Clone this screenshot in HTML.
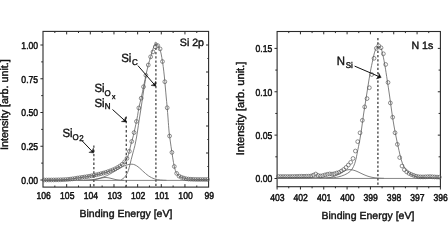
<!DOCTYPE html>
<html><head><meta charset="utf-8"><title>XPS spectra</title>
<style>
html,body{margin:0;padding:0;background:#fff;}
body{width:448px;height:252px;overflow:hidden;}
svg{display:block;}
text{font-family:"Liberation Sans", Arial, Helvetica, sans-serif;fill:#111;text-rendering:geometricPrecision;}
</style></head>
<body>
<svg width="448" height="252" viewBox="0 0 448 252">
<rect width="448" height="252" fill="#fff"/>
<rect x="43.00" y="31.40" width="165.60" height="155.70" fill="none" stroke="#2a2a2a" stroke-width="1.1"/>
<line x1="54.83" y1="187.10" x2="54.83" y2="185.50" stroke="#2a2a2a" stroke-width="1.0" />
<line x1="54.83" y1="31.40" x2="54.83" y2="33.00" stroke="#2a2a2a" stroke-width="1.0" />
<line x1="66.66" y1="187.10" x2="66.66" y2="184.10" stroke="#2a2a2a" stroke-width="1.0" />
<line x1="66.66" y1="31.40" x2="66.66" y2="34.40" stroke="#2a2a2a" stroke-width="1.0" />
<line x1="78.49" y1="187.10" x2="78.49" y2="185.50" stroke="#2a2a2a" stroke-width="1.0" />
<line x1="78.49" y1="31.40" x2="78.49" y2="33.00" stroke="#2a2a2a" stroke-width="1.0" />
<line x1="90.31" y1="187.10" x2="90.31" y2="184.10" stroke="#2a2a2a" stroke-width="1.0" />
<line x1="90.31" y1="31.40" x2="90.31" y2="34.40" stroke="#2a2a2a" stroke-width="1.0" />
<line x1="102.14" y1="187.10" x2="102.14" y2="185.50" stroke="#2a2a2a" stroke-width="1.0" />
<line x1="102.14" y1="31.40" x2="102.14" y2="33.00" stroke="#2a2a2a" stroke-width="1.0" />
<line x1="113.97" y1="187.10" x2="113.97" y2="184.10" stroke="#2a2a2a" stroke-width="1.0" />
<line x1="113.97" y1="31.40" x2="113.97" y2="34.40" stroke="#2a2a2a" stroke-width="1.0" />
<line x1="125.80" y1="187.10" x2="125.80" y2="185.50" stroke="#2a2a2a" stroke-width="1.0" />
<line x1="125.80" y1="31.40" x2="125.80" y2="33.00" stroke="#2a2a2a" stroke-width="1.0" />
<line x1="137.63" y1="187.10" x2="137.63" y2="184.10" stroke="#2a2a2a" stroke-width="1.0" />
<line x1="137.63" y1="31.40" x2="137.63" y2="34.40" stroke="#2a2a2a" stroke-width="1.0" />
<line x1="149.46" y1="187.10" x2="149.46" y2="185.50" stroke="#2a2a2a" stroke-width="1.0" />
<line x1="149.46" y1="31.40" x2="149.46" y2="33.00" stroke="#2a2a2a" stroke-width="1.0" />
<line x1="161.29" y1="187.10" x2="161.29" y2="184.10" stroke="#2a2a2a" stroke-width="1.0" />
<line x1="161.29" y1="31.40" x2="161.29" y2="34.40" stroke="#2a2a2a" stroke-width="1.0" />
<line x1="173.11" y1="187.10" x2="173.11" y2="185.50" stroke="#2a2a2a" stroke-width="1.0" />
<line x1="173.11" y1="31.40" x2="173.11" y2="33.00" stroke="#2a2a2a" stroke-width="1.0" />
<line x1="184.94" y1="187.10" x2="184.94" y2="184.10" stroke="#2a2a2a" stroke-width="1.0" />
<line x1="184.94" y1="31.40" x2="184.94" y2="34.40" stroke="#2a2a2a" stroke-width="1.0" />
<line x1="196.77" y1="187.10" x2="196.77" y2="185.50" stroke="#2a2a2a" stroke-width="1.0" />
<line x1="196.77" y1="31.40" x2="196.77" y2="33.00" stroke="#2a2a2a" stroke-width="1.0" />
<line x1="40.40" y1="180.00" x2="43.00" y2="180.00" stroke="#2a2a2a" stroke-width="1.0" />
<line x1="41.20" y1="163.12" x2="43.00" y2="163.12" stroke="#2a2a2a" stroke-width="1.0" />
<line x1="40.40" y1="146.25" x2="43.00" y2="146.25" stroke="#2a2a2a" stroke-width="1.0" />
<line x1="41.20" y1="129.38" x2="43.00" y2="129.38" stroke="#2a2a2a" stroke-width="1.0" />
<line x1="40.40" y1="112.50" x2="43.00" y2="112.50" stroke="#2a2a2a" stroke-width="1.0" />
<line x1="41.20" y1="95.62" x2="43.00" y2="95.62" stroke="#2a2a2a" stroke-width="1.0" />
<line x1="40.40" y1="78.75" x2="43.00" y2="78.75" stroke="#2a2a2a" stroke-width="1.0" />
<line x1="41.20" y1="61.88" x2="43.00" y2="61.88" stroke="#2a2a2a" stroke-width="1.0" />
<line x1="40.40" y1="45.00" x2="43.00" y2="45.00" stroke="#2a2a2a" stroke-width="1.0" />
<line x1="208.60" y1="166.50" x2="207.40" y2="166.50" stroke="#2a2a2a" stroke-width="1.0" />
<line x1="208.60" y1="153.00" x2="206.00" y2="153.00" stroke="#2a2a2a" stroke-width="1.0" />
<line x1="208.60" y1="139.50" x2="207.40" y2="139.50" stroke="#2a2a2a" stroke-width="1.0" />
<line x1="208.60" y1="126.00" x2="206.00" y2="126.00" stroke="#2a2a2a" stroke-width="1.0" />
<line x1="208.60" y1="112.50" x2="207.40" y2="112.50" stroke="#2a2a2a" stroke-width="1.0" />
<line x1="208.60" y1="99.00" x2="206.00" y2="99.00" stroke="#2a2a2a" stroke-width="1.0" />
<line x1="208.60" y1="85.50" x2="207.40" y2="85.50" stroke="#2a2a2a" stroke-width="1.0" />
<line x1="208.60" y1="72.00" x2="206.00" y2="72.00" stroke="#2a2a2a" stroke-width="1.0" />
<line x1="208.60" y1="58.50" x2="207.40" y2="58.50" stroke="#2a2a2a" stroke-width="1.0" />
<line x1="208.60" y1="45.00" x2="206.00" y2="45.00" stroke="#2a2a2a" stroke-width="1.0" />
<text transform="translate(43.60,199.30) scale(0.86,1.0)" font-size="10.0" text-anchor="middle" stroke="#111" stroke-width="0.5">106</text>
<text transform="translate(67.26,199.30) scale(0.86,1.0)" font-size="10.0" text-anchor="middle" stroke="#111" stroke-width="0.5">105</text>
<text transform="translate(90.91,199.30) scale(0.86,1.0)" font-size="10.0" text-anchor="middle" stroke="#111" stroke-width="0.5">104</text>
<text transform="translate(114.57,199.30) scale(0.86,1.0)" font-size="10.0" text-anchor="middle" stroke="#111" stroke-width="0.5">103</text>
<text transform="translate(138.23,199.30) scale(0.86,1.0)" font-size="10.0" text-anchor="middle" stroke="#111" stroke-width="0.5">102</text>
<text transform="translate(161.89,199.30) scale(0.86,1.0)" font-size="10.0" text-anchor="middle" stroke="#111" stroke-width="0.5">101</text>
<text transform="translate(185.54,199.30) scale(0.86,1.0)" font-size="10.0" text-anchor="middle" stroke="#111" stroke-width="0.5">100</text>
<text transform="translate(209.20,199.30) scale(0.86,1.0)" font-size="10.0" text-anchor="middle" stroke="#111" stroke-width="0.5">99</text>
<text transform="translate(38.10,183.90) scale(0.86,1.0)" font-size="10.0" text-anchor="end" stroke="#111" stroke-width="0.5">0.00</text>
<text transform="translate(38.10,150.15) scale(0.86,1.0)" font-size="10.0" text-anchor="end" stroke="#111" stroke-width="0.5">0.25</text>
<text transform="translate(38.10,116.40) scale(0.86,1.0)" font-size="10.0" text-anchor="end" stroke="#111" stroke-width="0.5">0.50</text>
<text transform="translate(38.10,82.65) scale(0.86,1.0)" font-size="10.0" text-anchor="end" stroke="#111" stroke-width="0.5">0.75</text>
<text transform="translate(38.10,48.90) scale(0.86,1.0)" font-size="10.0" text-anchor="end" stroke="#111" stroke-width="0.5">1.00</text>
<rect x="277.10" y="31.50" width="163.30" height="155.20" fill="none" stroke="#2a2a2a" stroke-width="1.1"/>
<line x1="277.10" y1="186.70" x2="277.10" y2="189.50" stroke="#2a2a2a" stroke-width="1.0" />
<line x1="288.76" y1="186.70" x2="288.76" y2="188.30" stroke="#2a2a2a" stroke-width="1.0" />
<line x1="288.76" y1="31.50" x2="288.76" y2="33.10" stroke="#2a2a2a" stroke-width="1.0" />
<line x1="300.43" y1="186.70" x2="300.43" y2="189.50" stroke="#2a2a2a" stroke-width="1.0" />
<line x1="300.43" y1="31.50" x2="300.43" y2="34.30" stroke="#2a2a2a" stroke-width="1.0" />
<line x1="312.09" y1="186.70" x2="312.09" y2="188.30" stroke="#2a2a2a" stroke-width="1.0" />
<line x1="312.09" y1="31.50" x2="312.09" y2="33.10" stroke="#2a2a2a" stroke-width="1.0" />
<line x1="323.76" y1="186.70" x2="323.76" y2="189.50" stroke="#2a2a2a" stroke-width="1.0" />
<line x1="323.76" y1="31.50" x2="323.76" y2="34.30" stroke="#2a2a2a" stroke-width="1.0" />
<line x1="335.42" y1="186.70" x2="335.42" y2="188.30" stroke="#2a2a2a" stroke-width="1.0" />
<line x1="335.42" y1="31.50" x2="335.42" y2="33.10" stroke="#2a2a2a" stroke-width="1.0" />
<line x1="347.09" y1="186.70" x2="347.09" y2="189.50" stroke="#2a2a2a" stroke-width="1.0" />
<line x1="347.09" y1="31.50" x2="347.09" y2="34.30" stroke="#2a2a2a" stroke-width="1.0" />
<line x1="358.75" y1="186.70" x2="358.75" y2="188.30" stroke="#2a2a2a" stroke-width="1.0" />
<line x1="358.75" y1="31.50" x2="358.75" y2="33.10" stroke="#2a2a2a" stroke-width="1.0" />
<line x1="370.41" y1="186.70" x2="370.41" y2="189.50" stroke="#2a2a2a" stroke-width="1.0" />
<line x1="370.41" y1="31.50" x2="370.41" y2="34.30" stroke="#2a2a2a" stroke-width="1.0" />
<line x1="382.08" y1="186.70" x2="382.08" y2="188.30" stroke="#2a2a2a" stroke-width="1.0" />
<line x1="382.08" y1="31.50" x2="382.08" y2="33.10" stroke="#2a2a2a" stroke-width="1.0" />
<line x1="393.74" y1="186.70" x2="393.74" y2="189.50" stroke="#2a2a2a" stroke-width="1.0" />
<line x1="393.74" y1="31.50" x2="393.74" y2="34.30" stroke="#2a2a2a" stroke-width="1.0" />
<line x1="405.41" y1="186.70" x2="405.41" y2="188.30" stroke="#2a2a2a" stroke-width="1.0" />
<line x1="405.41" y1="31.50" x2="405.41" y2="33.10" stroke="#2a2a2a" stroke-width="1.0" />
<line x1="417.07" y1="186.70" x2="417.07" y2="189.50" stroke="#2a2a2a" stroke-width="1.0" />
<line x1="417.07" y1="31.50" x2="417.07" y2="34.30" stroke="#2a2a2a" stroke-width="1.0" />
<line x1="428.74" y1="186.70" x2="428.74" y2="188.30" stroke="#2a2a2a" stroke-width="1.0" />
<line x1="428.74" y1="31.50" x2="428.74" y2="33.10" stroke="#2a2a2a" stroke-width="1.0" />
<line x1="440.40" y1="186.70" x2="440.40" y2="189.50" stroke="#2a2a2a" stroke-width="1.0" />
<line x1="274.50" y1="178.50" x2="277.10" y2="178.50" stroke="#2a2a2a" stroke-width="1.0" />
<line x1="440.40" y1="178.50" x2="437.80" y2="178.50" stroke="#2a2a2a" stroke-width="1.0" />
<line x1="275.30" y1="156.82" x2="277.10" y2="156.82" stroke="#2a2a2a" stroke-width="1.0" />
<line x1="440.40" y1="156.82" x2="438.60" y2="156.82" stroke="#2a2a2a" stroke-width="1.0" />
<line x1="274.50" y1="135.13" x2="277.10" y2="135.13" stroke="#2a2a2a" stroke-width="1.0" />
<line x1="440.40" y1="135.13" x2="437.80" y2="135.13" stroke="#2a2a2a" stroke-width="1.0" />
<line x1="275.30" y1="113.45" x2="277.10" y2="113.45" stroke="#2a2a2a" stroke-width="1.0" />
<line x1="440.40" y1="113.45" x2="438.60" y2="113.45" stroke="#2a2a2a" stroke-width="1.0" />
<line x1="274.50" y1="91.77" x2="277.10" y2="91.77" stroke="#2a2a2a" stroke-width="1.0" />
<line x1="440.40" y1="91.77" x2="437.80" y2="91.77" stroke="#2a2a2a" stroke-width="1.0" />
<line x1="275.30" y1="70.08" x2="277.10" y2="70.08" stroke="#2a2a2a" stroke-width="1.0" />
<line x1="440.40" y1="70.08" x2="438.60" y2="70.08" stroke="#2a2a2a" stroke-width="1.0" />
<line x1="274.50" y1="48.40" x2="277.10" y2="48.40" stroke="#2a2a2a" stroke-width="1.0" />
<line x1="440.40" y1="48.40" x2="437.80" y2="48.40" stroke="#2a2a2a" stroke-width="1.0" />
<text transform="translate(277.40,201.20) scale(0.86,1.0)" font-size="10.0" text-anchor="middle" stroke="#111" stroke-width="0.5">403</text>
<text transform="translate(300.73,201.20) scale(0.86,1.0)" font-size="10.0" text-anchor="middle" stroke="#111" stroke-width="0.5">402</text>
<text transform="translate(324.06,201.20) scale(0.86,1.0)" font-size="10.0" text-anchor="middle" stroke="#111" stroke-width="0.5">401</text>
<text transform="translate(347.39,201.20) scale(0.86,1.0)" font-size="10.0" text-anchor="middle" stroke="#111" stroke-width="0.5">400</text>
<text transform="translate(370.71,201.20) scale(0.86,1.0)" font-size="10.0" text-anchor="middle" stroke="#111" stroke-width="0.5">399</text>
<text transform="translate(394.04,201.20) scale(0.86,1.0)" font-size="10.0" text-anchor="middle" stroke="#111" stroke-width="0.5">398</text>
<text transform="translate(417.37,201.20) scale(0.86,1.0)" font-size="10.0" text-anchor="middle" stroke="#111" stroke-width="0.5">397</text>
<text transform="translate(440.70,201.20) scale(0.86,1.0)" font-size="10.0" text-anchor="middle" stroke="#111" stroke-width="0.5">396</text>
<text transform="translate(272.30,182.40) scale(0.86,1.0)" font-size="10.0" text-anchor="end" stroke="#111" stroke-width="0.5">0.00</text>
<text transform="translate(272.30,139.03) scale(0.86,1.0)" font-size="10.0" text-anchor="end" stroke="#111" stroke-width="0.5">0.05</text>
<text transform="translate(272.30,95.67) scale(0.86,1.0)" font-size="10.0" text-anchor="end" stroke="#111" stroke-width="0.5">0.10</text>
<text transform="translate(272.30,52.30) scale(0.86,1.0)" font-size="10.0" text-anchor="end" stroke="#111" stroke-width="0.5">0.15</text>
<text transform="translate(125.90,217.30) scale(1.02,1.0)" font-size="10.3" text-anchor="middle" stroke="#111" stroke-width="0.4">Binding Energy [eV]</text>
<text transform="translate(367.90,218.60) scale(1.02,1.0)" font-size="10.3" text-anchor="middle" stroke="#111" stroke-width="0.4">Binding Energy [eV]</text>
<text transform="translate(8.1,104.6) rotate(-90)" font-size="10.75" text-anchor="middle" stroke="#111" stroke-width="0.4">Intensity [arb. unit.]</text>
<text transform="translate(243.7,108.5) rotate(-90)" font-size="11.1" text-anchor="middle" stroke="#111" stroke-width="0.4">Intensity [arb. unit.]</text>
<text transform="translate(204.00,45.50) scale(1.0,1.0)" font-size="10.6" text-anchor="end" stroke="#111" stroke-width="0.4">Si 2p</text>
<text transform="translate(433.20,48.70) scale(1.0,1.0)" font-size="10.6" text-anchor="end" stroke="#111" stroke-width="0.4">N 1s</text>
<path d="M121.30,179.60 C121.63,179.40 122.63,178.93 123.30,178.40 C123.97,177.87 124.70,177.17 125.30,176.40 C125.90,175.63 126.38,174.80 126.90,173.80 C127.42,172.80 127.90,171.90 128.40,170.40 C128.90,168.90 129.43,166.60 129.90,164.80 C130.37,163.00 130.78,161.23 131.20,159.60 C131.62,157.97 132.02,156.47 132.40,155.00 C132.78,153.53 133.08,152.38 133.50,150.80 C133.92,149.22 134.42,147.63 134.90,145.50 C135.38,143.37 135.93,140.58 136.40,138.00 C136.87,135.42 137.27,132.83 137.70,130.00 C138.13,127.17 138.52,124.17 139.00,121.00 C139.48,117.83 140.08,114.33 140.60,111.00 C141.12,107.67 141.55,104.67 142.10,101.00 C142.65,97.33 143.22,93.25 143.90,89.00 C144.58,84.75 145.82,77.75 146.20,75.50" fill="none" stroke="#606060" stroke-width="0.8"/>
<path d="M84.00,180.21 C84.25,180.20 85.00,180.18 85.50,180.15 C86.00,180.13 86.50,180.11 87.00,180.08 C87.50,180.05 88.00,180.02 88.50,179.98 C89.00,179.95 89.50,179.91 90.00,179.87 C90.50,179.82 91.00,179.77 91.50,179.72 C92.00,179.67 92.50,179.61 93.00,179.54 C93.50,179.48 94.00,179.41 94.50,179.33 C95.00,179.25 95.50,179.17 96.00,179.07 C96.50,178.98 97.00,178.88 97.50,178.77 C98.00,178.66 98.50,178.55 99.00,178.42 C99.50,178.29 100.00,178.16 100.50,178.01 C101.00,177.86 101.50,177.71 102.00,177.54 C102.50,177.37 103.00,177.20 103.50,177.01 C104.00,176.82 104.50,176.62 105.00,176.42 C105.50,176.21 106.00,175.99 106.50,175.76 C107.00,175.53 107.50,175.29 108.00,175.04 C108.50,174.79 109.00,174.53 109.50,174.27 C110.00,174.00 110.50,173.72 111.00,173.44 C111.50,173.16 112.00,172.87 112.50,172.57 C113.00,172.28 113.50,171.98 114.00,171.68 C114.50,171.37 115.00,171.06 115.50,170.76 C116.00,170.45 116.50,170.14 117.00,169.84 C117.50,169.53 118.00,169.23 118.50,168.93 C119.00,168.64 119.50,168.34 120.00,168.06 C120.50,167.77 121.00,167.50 121.50,167.23 C122.00,166.97 122.50,166.71 123.00,166.47 C123.50,166.24 124.00,166.01 124.50,165.80 C125.00,165.59 125.50,165.40 126.00,165.23 C126.50,165.06 127.00,164.91 127.50,164.77 C128.00,164.64 128.50,164.53 129.00,164.45 C129.50,164.36 130.00,164.29 130.50,164.25 C131.00,164.21 131.50,164.18 132.00,164.20 C132.50,164.23 133.00,164.29 133.50,164.41 C134.00,164.53 134.50,164.71 135.00,164.94 C135.50,165.16 136.00,165.43 136.50,165.74 C137.00,166.05 137.50,166.41 138.00,166.79 C138.50,167.17 139.00,167.59 139.50,168.02 C140.00,168.45 140.50,168.91 141.00,169.36 C141.50,169.82 142.00,170.30 142.50,170.76 C143.00,171.23 143.50,171.70 144.00,172.15 C144.50,172.61 145.00,173.06 145.50,173.48 C146.00,173.91 146.50,174.33 147.00,174.72 C147.50,175.11 148.00,175.48 148.50,175.83 C149.00,176.17 149.50,176.50 150.00,176.79 C150.50,177.09 151.00,177.36 151.50,177.61 C152.00,177.86 152.50,178.09 153.00,178.29 C153.50,178.49 154.00,178.67 154.50,178.83 C155.00,179.00 155.50,179.14 156.00,179.26 C156.50,179.39 157.00,179.49 157.50,179.59 C158.00,179.69 158.50,179.76 159.00,179.83 C159.50,179.91 160.00,179.96 160.50,180.01 C161.00,180.06 161.50,180.10 162.00,180.14 C162.50,180.18 163.00,180.21 163.50,180.23 C164.00,180.26 164.50,180.27 165.00,180.29 C165.50,180.31 166.25,180.32 166.50,180.33" fill="none" stroke="#606060" stroke-width="0.8"/>
<path d="M78.00,180.40 C78.33,180.40 79.33,180.40 80.00,180.40 C80.67,180.40 81.33,180.40 82.00,180.40 C82.67,180.39 83.33,180.39 84.00,180.39 C84.67,180.38 85.33,180.38 86.00,180.37 C86.67,180.36 87.33,180.35 88.00,180.32 C88.67,180.30 89.33,180.27 90.00,180.23 C90.67,180.19 91.33,180.14 92.00,180.06 C92.67,179.99 93.33,179.90 94.00,179.79 C94.67,179.68 95.33,179.55 96.00,179.40 C96.67,179.26 97.33,179.08 98.00,178.91 C98.67,178.74 99.33,178.54 100.00,178.37 C100.67,178.20 101.33,178.02 102.00,177.89 C102.67,177.76 103.33,177.64 104.00,177.58 C104.67,177.51 105.33,177.49 106.00,177.51 C106.67,177.53 107.33,177.61 108.00,177.71 C108.67,177.81 109.33,177.96 110.00,178.12 C110.67,178.27 111.33,178.47 112.00,178.64 C112.67,178.82 113.33,179.00 114.00,179.17 C114.67,179.33 115.33,179.48 116.00,179.61 C116.67,179.74 117.33,179.85 118.00,179.94 C118.67,180.03 119.33,180.10 120.00,180.16 C120.67,180.22 121.33,180.25 122.00,180.28 C122.67,180.32 123.67,180.34 124.00,180.35" fill="none" stroke="#606060" stroke-width="0.8"/>
<line x1="43.00" y1="180.40" x2="208.60" y2="180.40" stroke="#7a7a7a" stroke-width="0.9" />
<path d="M43.50,180.00 C45.42,179.98 51.42,179.97 55.00,179.90 C58.58,179.83 62.17,179.77 65.00,179.60 C67.83,179.43 69.67,179.20 72.00,178.90 C74.33,178.60 76.38,178.20 79.00,177.80 C81.62,177.40 85.25,176.92 87.75,176.50 C90.25,176.08 91.96,175.73 94.00,175.30 C96.04,174.87 98.00,174.40 100.00,173.90 C102.00,173.40 104.00,172.92 106.00,172.30 C108.00,171.68 110.33,170.85 112.00,170.20 C113.67,169.55 114.67,169.10 116.00,168.40 C117.33,167.70 118.83,166.80 120.00,166.00 C121.17,165.20 122.17,164.38 123.00,163.60 C123.83,162.82 124.33,162.18 125.00,161.30 C125.67,160.42 126.42,159.42 127.00,158.30 C127.58,157.18 128.05,156.02 128.50,154.60 C128.95,153.18 129.28,151.57 129.70,149.80 C130.12,148.03 130.38,146.38 131.00,144.00 C131.62,141.62 132.60,138.75 133.40,135.50 C134.20,132.25 135.10,127.83 135.80,124.50 C136.50,121.17 137.07,118.42 137.60,115.50 C138.13,112.58 138.37,110.04 139.00,107.00 C139.63,103.96 140.58,100.92 141.40,97.25 C142.22,93.58 143.10,88.88 143.90,85.00 C144.70,81.12 145.45,77.42 146.20,74.00 C146.95,70.58 147.65,67.40 148.40,64.50 C149.15,61.60 149.97,59.08 150.70,56.60 C151.43,54.12 152.17,51.60 152.80,49.60 C153.43,47.60 154.03,45.87 154.50,44.60 C154.97,43.33 155.22,42.22 155.60,42.00 C155.98,41.78 156.30,42.53 156.80,43.30 C157.30,44.07 157.98,45.28 158.60,46.60 C159.22,47.92 159.97,49.38 160.50,51.20 C161.03,53.02 161.35,54.95 161.80,57.50 C162.25,60.05 162.78,63.42 163.20,66.50 C163.62,69.58 163.95,72.58 164.30,76.00 C164.65,79.42 164.98,83.50 165.30,87.00 C165.62,90.50 165.90,93.73 166.20,97.00 C166.50,100.27 166.78,102.93 167.10,106.60 C167.42,110.27 167.77,114.77 168.10,119.00 C168.43,123.23 168.72,128.17 169.10,132.00 C169.48,135.83 169.95,138.75 170.40,142.00 C170.85,145.25 171.28,148.08 171.80,151.50 C172.32,154.92 172.90,159.32 173.50,162.50 C174.10,165.68 174.68,168.52 175.40,170.60 C176.12,172.68 176.95,173.95 177.80,175.00 C178.65,176.05 179.55,176.40 180.50,176.90 C181.45,177.40 182.42,177.67 183.50,178.00 C184.58,178.33 185.08,178.67 187.00,178.90 C188.92,179.13 191.50,179.30 195.00,179.40 C198.50,179.50 205.83,179.48 208.00,179.50" fill="none" stroke="#606060" stroke-width="0.8"/>
<circle cx="44.18" cy="180.00" r="1.9" fill="none" stroke="#525252" stroke-width="0.65"/>
<circle cx="46.55" cy="179.98" r="1.9" fill="none" stroke="#525252" stroke-width="0.65"/>
<circle cx="48.91" cy="179.97" r="1.9" fill="none" stroke="#525252" stroke-width="0.65"/>
<circle cx="51.28" cy="179.95" r="1.9" fill="none" stroke="#525252" stroke-width="0.65"/>
<circle cx="53.65" cy="179.92" r="1.9" fill="none" stroke="#525252" stroke-width="0.65"/>
<circle cx="56.01" cy="179.88" r="1.9" fill="none" stroke="#525252" stroke-width="0.65"/>
<circle cx="58.38" cy="179.83" r="1.9" fill="none" stroke="#525252" stroke-width="0.65"/>
<circle cx="60.74" cy="179.77" r="1.9" fill="none" stroke="#525252" stroke-width="0.65"/>
<circle cx="63.11" cy="179.69" r="1.9" fill="none" stroke="#525252" stroke-width="0.65"/>
<circle cx="65.47" cy="179.57" r="1.9" fill="none" stroke="#525252" stroke-width="0.65"/>
<circle cx="67.84" cy="179.38" r="1.9" fill="none" stroke="#525252" stroke-width="0.65"/>
<circle cx="70.21" cy="179.13" r="1.9" fill="none" stroke="#525252" stroke-width="0.65"/>
<circle cx="72.57" cy="178.82" r="1.9" fill="none" stroke="#525252" stroke-width="0.65"/>
<circle cx="74.94" cy="178.46" r="1.9" fill="none" stroke="#525252" stroke-width="0.65"/>
<circle cx="77.30" cy="178.07" r="1.9" fill="none" stroke="#525252" stroke-width="0.65"/>
<circle cx="79.67" cy="177.70" r="1.9" fill="none" stroke="#525252" stroke-width="0.65"/>
<circle cx="82.03" cy="177.36" r="1.9" fill="none" stroke="#525252" stroke-width="0.65"/>
<circle cx="84.40" cy="177.01" r="1.9" fill="none" stroke="#525252" stroke-width="0.65"/>
<circle cx="86.77" cy="176.66" r="1.9" fill="none" stroke="#525252" stroke-width="0.65"/>
<circle cx="89.13" cy="176.26" r="1.9" fill="none" stroke="#525252" stroke-width="0.65"/>
<circle cx="91.50" cy="175.82" r="1.9" fill="none" stroke="#525252" stroke-width="0.65"/>
<circle cx="93.86" cy="175.33" r="1.9" fill="none" stroke="#525252" stroke-width="0.65"/>
<circle cx="96.23" cy="174.81" r="1.9" fill="none" stroke="#525252" stroke-width="0.65"/>
<circle cx="98.59" cy="174.25" r="1.9" fill="none" stroke="#525252" stroke-width="0.65"/>
<circle cx="100.96" cy="173.66" r="1.9" fill="none" stroke="#525252" stroke-width="0.65"/>
<circle cx="103.33" cy="173.06" r="1.9" fill="none" stroke="#525252" stroke-width="0.65"/>
<circle cx="105.69" cy="172.39" r="1.9" fill="none" stroke="#525252" stroke-width="0.65"/>
<circle cx="108.06" cy="171.63" r="1.9" fill="none" stroke="#525252" stroke-width="0.65"/>
<circle cx="110.42" cy="170.80" r="1.9" fill="none" stroke="#525252" stroke-width="0.65"/>
<circle cx="112.79" cy="169.89" r="1.9" fill="none" stroke="#525252" stroke-width="0.65"/>
<circle cx="115.15" cy="168.83" r="1.9" fill="none" stroke="#525252" stroke-width="0.65"/>
<circle cx="117.52" cy="167.56" r="1.9" fill="none" stroke="#525252" stroke-width="0.65"/>
<circle cx="119.89" cy="166.08" r="1.9" fill="none" stroke="#525252" stroke-width="0.65"/>
<circle cx="122.25" cy="164.27" r="1.9" fill="none" stroke="#525252" stroke-width="0.65"/>
<circle cx="124.62" cy="161.80" r="1.9" fill="none" stroke="#525252" stroke-width="0.65"/>
<circle cx="126.98" cy="158.33" r="1.9" fill="none" stroke="#525252" stroke-width="0.65"/>
<circle cx="129.35" cy="151.32" r="1.9" fill="none" stroke="#525252" stroke-width="0.65"/>
<circle cx="131.71" cy="141.47" r="1.9" fill="none" stroke="#525252" stroke-width="0.65"/>
<circle cx="134.08" cy="132.58" r="1.9" fill="none" stroke="#525252" stroke-width="0.65"/>
<circle cx="136.45" cy="121.40" r="1.9" fill="none" stroke="#525252" stroke-width="0.65"/>
<circle cx="138.81" cy="107.95" r="1.9" fill="none" stroke="#525252" stroke-width="0.65"/>
<circle cx="141.18" cy="98.22" r="1.9" fill="none" stroke="#525252" stroke-width="0.65"/>
<circle cx="143.54" cy="86.75" r="1.9" fill="none" stroke="#525252" stroke-width="0.65"/>
<circle cx="145.91" cy="75.34" r="1.9" fill="none" stroke="#525252" stroke-width="0.65"/>
<circle cx="148.27" cy="64.99" r="1.9" fill="none" stroke="#525252" stroke-width="0.65"/>
<circle cx="150.64" cy="56.80" r="1.9" fill="none" stroke="#525252" stroke-width="0.65"/>
<circle cx="153.01" cy="51.90" r="1.9" fill="none" stroke="#525252" stroke-width="0.65"/>
<circle cx="155.37" cy="46.90" r="1.9" fill="none" stroke="#525252" stroke-width="0.65"/>
<circle cx="157.74" cy="45.60" r="1.9" fill="none" stroke="#525252" stroke-width="0.65"/>
<circle cx="160.10" cy="48.90" r="1.9" fill="none" stroke="#525252" stroke-width="0.65"/>
<circle cx="162.47" cy="61.52" r="1.9" fill="none" stroke="#525252" stroke-width="0.65"/>
<circle cx="164.83" cy="81.72" r="1.9" fill="none" stroke="#525252" stroke-width="0.65"/>
<circle cx="167.20" cy="107.77" r="1.9" fill="none" stroke="#525252" stroke-width="0.65"/>
<circle cx="169.57" cy="136.03" r="1.9" fill="none" stroke="#525252" stroke-width="0.65"/>
<circle cx="171.93" cy="152.38" r="1.9" fill="none" stroke="#525252" stroke-width="0.65"/>
<circle cx="174.30" cy="166.47" r="1.9" fill="none" stroke="#525252" stroke-width="0.65"/>
<circle cx="176.66" cy="173.38" r="1.9" fill="none" stroke="#525252" stroke-width="0.65"/>
<circle cx="179.03" cy="176.10" r="1.9" fill="none" stroke="#525252" stroke-width="0.65"/>
<circle cx="181.39" cy="177.31" r="1.9" fill="none" stroke="#525252" stroke-width="0.65"/>
<circle cx="183.76" cy="178.08" r="1.9" fill="none" stroke="#525252" stroke-width="0.65"/>
<circle cx="186.13" cy="178.77" r="1.9" fill="none" stroke="#525252" stroke-width="0.65"/>
<circle cx="188.49" cy="179.06" r="1.9" fill="none" stroke="#525252" stroke-width="0.65"/>
<circle cx="190.86" cy="179.23" r="1.9" fill="none" stroke="#525252" stroke-width="0.65"/>
<circle cx="193.22" cy="179.34" r="1.9" fill="none" stroke="#525252" stroke-width="0.65"/>
<circle cx="195.59" cy="179.41" r="1.9" fill="none" stroke="#525252" stroke-width="0.65"/>
<circle cx="197.95" cy="179.45" r="1.9" fill="none" stroke="#525252" stroke-width="0.65"/>
<circle cx="200.32" cy="179.47" r="1.9" fill="none" stroke="#525252" stroke-width="0.65"/>
<circle cx="202.69" cy="179.48" r="1.9" fill="none" stroke="#525252" stroke-width="0.65"/>
<circle cx="205.05" cy="179.49" r="1.9" fill="none" stroke="#525252" stroke-width="0.65"/>
<circle cx="207.42" cy="179.50" r="1.9" fill="none" stroke="#525252" stroke-width="0.65"/>
<line x1="155.90" y1="43.60" x2="155.90" y2="187.10" stroke="#4e4e4e" stroke-width="1.35" stroke-dasharray="2.2,2.05"/>
<line x1="126.30" y1="116.45" x2="126.30" y2="187.10" stroke="#4e4e4e" stroke-width="1.35" stroke-dasharray="2.3,2.25"/>
<line x1="93.85" y1="145.40" x2="93.85" y2="187.10" stroke="#4e4e4e" stroke-width="1.35" stroke-dasharray="2.3,2.0"/>
<path d="M277.50,177.60 C281.25,177.60 292.92,177.58 300.00,177.60 C307.08,177.62 314.78,177.67 320.00,177.70 C325.22,177.73 328.30,177.92 331.30,177.80 C334.30,177.68 335.77,177.50 338.00,177.00 C340.23,176.50 342.67,175.73 344.70,174.80 C346.73,173.87 348.72,172.80 350.20,171.40 C351.68,170.00 352.67,168.33 353.60,166.40 C354.53,164.47 355.17,162.20 355.80,159.80 C356.43,157.40 356.73,155.30 357.40,152.00 C358.07,148.70 359.08,144.00 359.80,140.00 C360.52,136.00 361.07,132.33 361.70,128.00 C362.33,123.67 362.92,118.67 363.60,114.00 C364.28,109.33 365.07,104.67 365.80,100.00 C366.53,95.33 367.25,90.67 368.00,86.00 C368.75,81.33 369.50,76.33 370.30,72.00 C371.10,67.67 372.02,63.50 372.80,60.00 C373.58,56.50 374.18,53.25 375.00,51.00 C375.82,48.75 376.93,47.22 377.70,46.50 C378.47,45.78 379.00,46.28 379.60,46.70 C380.20,47.12 380.73,47.53 381.30,49.00 C381.87,50.47 382.38,52.67 383.00,55.50 C383.62,58.33 384.30,61.92 385.00,66.00 C385.70,70.08 386.43,75.00 387.20,80.00 C387.97,85.00 388.83,90.67 389.60,96.00 C390.37,101.33 391.07,107.00 391.80,112.00 C392.53,117.00 393.22,121.50 394.00,126.00 C394.78,130.50 395.67,134.92 396.50,139.00 C397.33,143.08 398.20,147.00 399.00,150.50 C399.80,154.00 400.47,157.28 401.30,160.00 C402.13,162.72 402.97,164.88 404.00,166.80 C405.03,168.72 406.33,170.25 407.50,171.50 C408.67,172.75 409.75,173.50 411.00,174.30 C412.25,175.10 413.50,175.78 415.00,176.30 C416.50,176.82 417.50,177.15 420.00,177.40 C422.50,177.65 426.67,177.72 430.00,177.80 C433.33,177.88 438.33,177.88 440.00,177.90" fill="none" stroke="#606060" stroke-width="0.8"/>
<path d="M326.00,178.11 C326.33,178.07 327.33,177.98 328.00,177.89 C328.67,177.80 329.33,177.70 330.00,177.56 C330.67,177.42 331.33,177.26 332.00,177.07 C332.67,176.88 333.33,176.66 334.00,176.40 C334.67,176.15 335.33,175.86 336.00,175.54 C336.67,175.23 337.33,174.87 338.00,174.51 C338.67,174.15 339.33,173.75 340.00,173.36 C340.67,172.97 341.33,172.56 342.00,172.18 C342.67,171.80 343.33,171.42 344.00,171.10 C344.67,170.78 345.33,170.47 346.00,170.24 C346.67,170.01 347.33,169.83 348.00,169.72 C348.67,169.62 349.33,169.59 350.00,169.61 C350.67,169.63 351.33,169.71 352.00,169.82 C352.67,169.94 353.33,170.11 354.00,170.31 C354.67,170.50 355.33,170.75 356.00,171.01 C356.67,171.27 357.33,171.57 358.00,171.87 C358.67,172.17 359.33,172.50 360.00,172.82 C360.67,173.14 361.33,173.47 362.00,173.79 C362.67,174.10 363.33,174.42 364.00,174.71 C364.67,175.00 365.33,175.28 366.00,175.54 C366.67,175.80 367.33,176.04 368.00,176.26 C368.67,176.48 369.33,176.67 370.00,176.85 C370.67,177.03 371.33,177.18 372.00,177.31 C372.67,177.45 373.33,177.56 374.00,177.66 C374.67,177.76 375.33,177.85 376.00,177.92 C376.67,177.99 377.33,178.04 378.00,178.09 C378.67,178.14 379.33,178.18 380.00,178.21 C380.67,178.24 381.33,178.27 382.00,178.29 C382.67,178.31 383.67,178.33 384.00,178.34" fill="none" stroke="#606060" stroke-width="0.8"/>
<line x1="277.10" y1="178.45" x2="440.40" y2="178.45" stroke="#7a7a7a" stroke-width="0.9" />
<circle cx="278.38" cy="176.50" r="1.9" fill="none" stroke="#525252" stroke-width="0.65"/>
<circle cx="280.72" cy="176.51" r="1.9" fill="none" stroke="#525252" stroke-width="0.65"/>
<circle cx="283.05" cy="176.51" r="1.9" fill="none" stroke="#525252" stroke-width="0.65"/>
<circle cx="285.38" cy="176.51" r="1.9" fill="none" stroke="#525252" stroke-width="0.65"/>
<circle cx="287.71" cy="176.51" r="1.9" fill="none" stroke="#525252" stroke-width="0.65"/>
<circle cx="290.05" cy="176.50" r="1.9" fill="none" stroke="#525252" stroke-width="0.65"/>
<circle cx="292.38" cy="176.47" r="1.9" fill="none" stroke="#525252" stroke-width="0.65"/>
<circle cx="294.71" cy="176.42" r="1.9" fill="none" stroke="#525252" stroke-width="0.65"/>
<circle cx="297.05" cy="176.37" r="1.9" fill="none" stroke="#525252" stroke-width="0.65"/>
<circle cx="299.38" cy="176.31" r="1.9" fill="none" stroke="#525252" stroke-width="0.65"/>
<circle cx="301.71" cy="176.27" r="1.9" fill="none" stroke="#525252" stroke-width="0.65"/>
<circle cx="304.04" cy="176.25" r="1.9" fill="none" stroke="#525252" stroke-width="0.65"/>
<circle cx="306.38" cy="176.23" r="1.9" fill="none" stroke="#525252" stroke-width="0.65"/>
<circle cx="308.71" cy="176.17" r="1.9" fill="none" stroke="#525252" stroke-width="0.65"/>
<circle cx="311.04" cy="175.99" r="1.9" fill="none" stroke="#525252" stroke-width="0.65"/>
<circle cx="313.38" cy="175.12" r="1.9" fill="none" stroke="#525252" stroke-width="0.65"/>
<circle cx="315.71" cy="174.03" r="1.9" fill="none" stroke="#525252" stroke-width="0.65"/>
<circle cx="318.04" cy="175.41" r="1.9" fill="none" stroke="#525252" stroke-width="0.65"/>
<circle cx="320.37" cy="175.98" r="1.9" fill="none" stroke="#525252" stroke-width="0.65"/>
<circle cx="322.71" cy="175.62" r="1.9" fill="none" stroke="#525252" stroke-width="0.65"/>
<circle cx="325.04" cy="174.91" r="1.9" fill="none" stroke="#525252" stroke-width="0.65"/>
<circle cx="327.37" cy="174.32" r="1.9" fill="none" stroke="#525252" stroke-width="0.65"/>
<circle cx="329.71" cy="173.92" r="1.9" fill="none" stroke="#525252" stroke-width="0.65"/>
<circle cx="332.04" cy="174.09" r="1.9" fill="none" stroke="#525252" stroke-width="0.65"/>
<circle cx="334.37" cy="173.75" r="1.9" fill="none" stroke="#525252" stroke-width="0.65"/>
<circle cx="336.70" cy="173.03" r="1.9" fill="none" stroke="#525252" stroke-width="0.65"/>
<circle cx="339.04" cy="172.42" r="1.9" fill="none" stroke="#525252" stroke-width="0.65"/>
<circle cx="341.37" cy="171.09" r="1.9" fill="none" stroke="#525252" stroke-width="0.65"/>
<circle cx="343.70" cy="169.52" r="1.9" fill="none" stroke="#525252" stroke-width="0.65"/>
<circle cx="346.04" cy="167.44" r="1.9" fill="none" stroke="#525252" stroke-width="0.65"/>
<circle cx="348.37" cy="165.02" r="1.9" fill="none" stroke="#525252" stroke-width="0.65"/>
<circle cx="350.70" cy="162.34" r="1.9" fill="none" stroke="#525252" stroke-width="0.65"/>
<circle cx="353.03" cy="158.46" r="1.9" fill="none" stroke="#525252" stroke-width="0.65"/>
<circle cx="355.37" cy="151.02" r="1.9" fill="none" stroke="#525252" stroke-width="0.65"/>
<circle cx="357.70" cy="141.65" r="1.9" fill="none" stroke="#525252" stroke-width="0.65"/>
<circle cx="360.03" cy="132.83" r="1.9" fill="none" stroke="#525252" stroke-width="0.65"/>
<circle cx="362.37" cy="120.34" r="1.9" fill="none" stroke="#525252" stroke-width="0.65"/>
<circle cx="364.70" cy="106.88" r="1.9" fill="none" stroke="#525252" stroke-width="0.65"/>
<circle cx="367.03" cy="98.59" r="1.9" fill="none" stroke="#525252" stroke-width="0.65"/>
<circle cx="369.36" cy="87.72" r="1.9" fill="none" stroke="#525252" stroke-width="0.65"/>
<circle cx="371.70" cy="74.51" r="1.9" fill="none" stroke="#525252" stroke-width="0.65"/>
<circle cx="374.03" cy="58.32" r="1.9" fill="none" stroke="#525252" stroke-width="0.65"/>
<circle cx="376.36" cy="48.34" r="1.9" fill="none" stroke="#525252" stroke-width="0.65"/>
<circle cx="378.70" cy="45.73" r="1.9" fill="none" stroke="#525252" stroke-width="0.65"/>
<circle cx="381.03" cy="47.77" r="1.9" fill="none" stroke="#525252" stroke-width="0.65"/>
<circle cx="383.36" cy="53.78" r="1.9" fill="none" stroke="#525252" stroke-width="0.65"/>
<circle cx="385.69" cy="64.47" r="1.9" fill="none" stroke="#525252" stroke-width="0.65"/>
<circle cx="388.03" cy="82.48" r="1.9" fill="none" stroke="#525252" stroke-width="0.65"/>
<circle cx="390.36" cy="102.94" r="1.9" fill="none" stroke="#525252" stroke-width="0.65"/>
<circle cx="392.69" cy="117.26" r="1.9" fill="none" stroke="#525252" stroke-width="0.65"/>
<circle cx="395.03" cy="132.75" r="1.9" fill="none" stroke="#525252" stroke-width="0.65"/>
<circle cx="397.36" cy="144.35" r="1.9" fill="none" stroke="#525252" stroke-width="0.65"/>
<circle cx="399.69" cy="157.55" r="1.9" fill="none" stroke="#525252" stroke-width="0.65"/>
<circle cx="402.02" cy="166.03" r="1.9" fill="none" stroke="#525252" stroke-width="0.65"/>
<circle cx="404.36" cy="169.73" r="1.9" fill="none" stroke="#525252" stroke-width="0.65"/>
<circle cx="406.69" cy="171.85" r="1.9" fill="none" stroke="#525252" stroke-width="0.65"/>
<circle cx="409.02" cy="173.42" r="1.9" fill="none" stroke="#525252" stroke-width="0.65"/>
<circle cx="411.36" cy="174.50" r="1.9" fill="none" stroke="#525252" stroke-width="0.65"/>
<circle cx="413.69" cy="175.39" r="1.9" fill="none" stroke="#525252" stroke-width="0.65"/>
<circle cx="416.02" cy="176.18" r="1.9" fill="none" stroke="#525252" stroke-width="0.65"/>
<circle cx="418.35" cy="176.70" r="1.9" fill="none" stroke="#525252" stroke-width="0.65"/>
<circle cx="420.69" cy="176.86" r="1.9" fill="none" stroke="#525252" stroke-width="0.65"/>
<circle cx="423.02" cy="176.91" r="1.9" fill="none" stroke="#525252" stroke-width="0.65"/>
<circle cx="425.35" cy="176.83" r="1.9" fill="none" stroke="#525252" stroke-width="0.65"/>
<circle cx="427.69" cy="176.70" r="1.9" fill="none" stroke="#525252" stroke-width="0.65"/>
<circle cx="430.02" cy="176.60" r="1.9" fill="none" stroke="#525252" stroke-width="0.65"/>
<circle cx="432.35" cy="176.76" r="1.9" fill="none" stroke="#525252" stroke-width="0.65"/>
<circle cx="434.68" cy="176.94" r="1.9" fill="none" stroke="#525252" stroke-width="0.65"/>
<circle cx="437.02" cy="177.07" r="1.9" fill="none" stroke="#525252" stroke-width="0.65"/>
<circle cx="439.35" cy="177.19" r="1.9" fill="none" stroke="#525252" stroke-width="0.65"/>
<line x1="377.90" y1="38.00" x2="377.90" y2="186.70" stroke="#464646" stroke-width="1.35" stroke-dasharray="2.2,2.05"/>
<text transform="translate(121.20,62.20) scale(0.95,1)" font-size="12.0" stroke="#111" stroke-width="0.4">Si</text>
<text transform="translate(131.90,64.90) scale(0.95,1)" font-size="8.4" stroke="#111" stroke-width="0.4">C</text>
<line x1="137.90" y1="65.60" x2="154.92" y2="85.17" stroke="#111" stroke-width="1.0"/>
<polygon points="155.90,86.30 155.64,81.31 154.19,84.34 150.99,85.35" fill="#111" stroke="#111" stroke-width="0.4" stroke-linejoin="round"/>
<text transform="translate(94.40,92.20) scale(0.95,1)" font-size="12.0" stroke="#111" stroke-width="0.4">Si</text>
<text transform="translate(104.50,95.60) scale(0.95,1)" font-size="8.4" stroke="#111" stroke-width="0.4">O</text>
<text transform="translate(112.00,99.10) scale(0.95,1)" font-size="7.2" stroke="#111" stroke-width="0.4">x</text>
<text transform="translate(94.40,106.80) scale(0.95,1)" font-size="12.0" stroke="#111" stroke-width="0.4">Si</text>
<text transform="translate(104.80,109.30) scale(0.95,1)" font-size="8.4" stroke="#111" stroke-width="0.4">N</text>
<line x1="112.50" y1="109.50" x2="125.19" y2="120.99" stroke="#111" stroke-width="1.0"/>
<polygon points="126.30,122.00 125.45,117.07 124.37,120.25 121.31,121.64" fill="#111" stroke="#111" stroke-width="0.4" stroke-linejoin="round"/>
<text transform="translate(62.40,137.30) scale(0.95,1)" font-size="12.0" stroke="#111" stroke-width="0.4">Si</text>
<text transform="translate(72.50,140.20) scale(0.95,1)" font-size="8.4" stroke="#111" stroke-width="0.4">O</text>
<text transform="translate(79.20,140.90) scale(0.95,1)" font-size="8.4" stroke="#111" stroke-width="0.4">2</text>
<line x1="81.90" y1="140.60" x2="92.77" y2="152.01" stroke="#111" stroke-width="1.0"/>
<polygon points="93.80,153.10 93.31,148.12 92.01,151.22 88.85,152.37" fill="#111" stroke="#111" stroke-width="0.4" stroke-linejoin="round"/>
<text transform="translate(336.70,65.10) scale(0.95,1)" font-size="12.0" stroke="#111" stroke-width="0.4">N</text>
<text transform="translate(345.70,67.60) scale(0.95,1)" font-size="8.4" stroke="#111" stroke-width="0.4">Si</text>
<line x1="354.60" y1="66.10" x2="379.82" y2="76.91" stroke="#111" stroke-width="1.0"/>
<polygon points="381.20,77.50 378.79,73.12 378.81,76.48 376.37,78.78" fill="#111" stroke="#111" stroke-width="0.4" stroke-linejoin="round"/>
</svg>
</body></html>
